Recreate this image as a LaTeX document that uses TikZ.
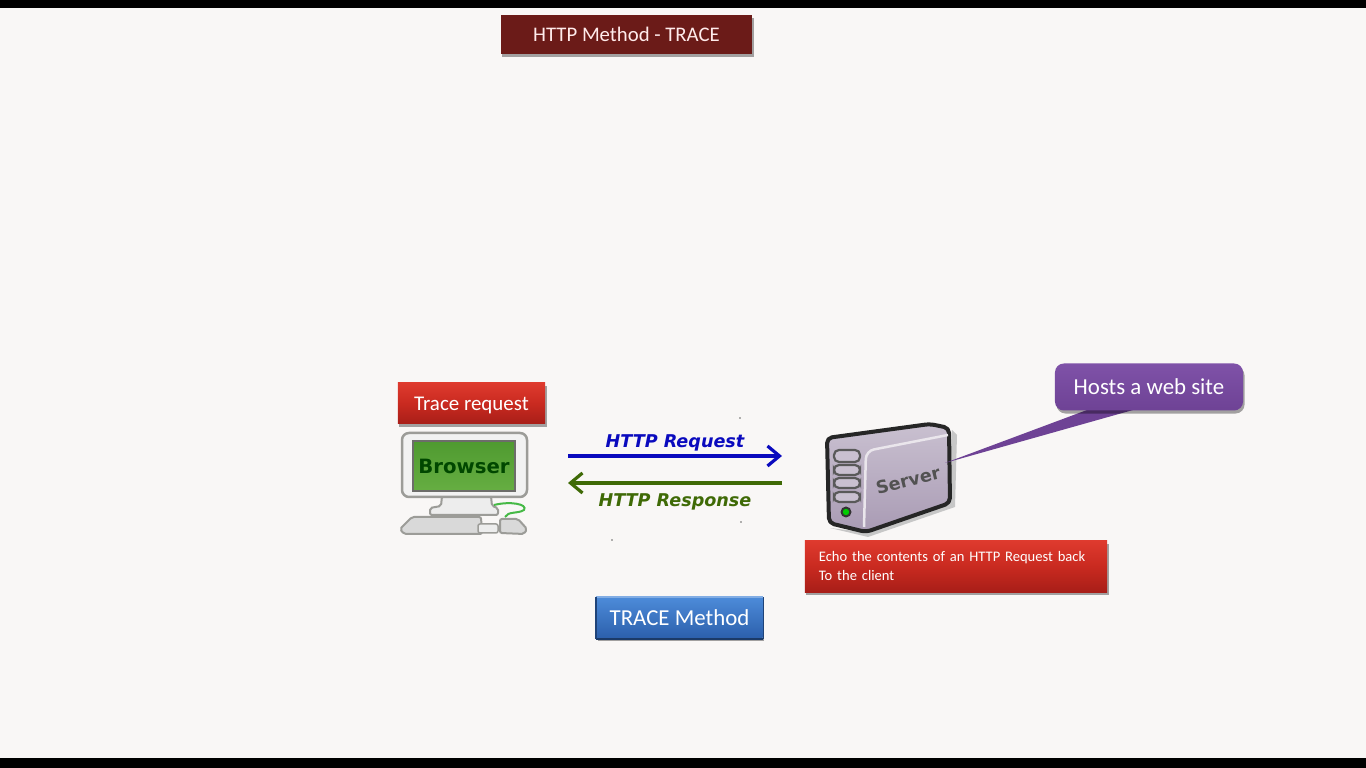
\documentclass[tikz,border=0pt]{standalone}
\usepackage{fontspec}
\setmainfont{Carlito}
\newfontfamily\labelfont{DejaVu Sans}
\usetikzlibrary{shadows,arrows.meta}
\definecolor{pagegray}{HTML}{F9F7F6}
\definecolor{titlered}{HTML}{6B1B18}
\definecolor{redtop}{HTML}{DE3A2E}
\definecolor{redmid}{HTML}{C92A20}
\definecolor{redbot}{HTML}{A81E18}
\definecolor{bluetop}{HTML}{4C8AD8}
\definecolor{bluebot}{HTML}{2C60AC}
\definecolor{purpletop}{HTML}{7F52A8}
\definecolor{purplebot}{HTML}{6E4295}
\definecolor{reqblue}{HTML}{0A0ABE}
\definecolor{resgreen}{HTML}{3F6A06}
\definecolor{screentop}{HTML}{4F9A30}
\definecolor{screenbot}{HTML}{66AE42}
\definecolor{casefill}{HTML}{A99BB4}
\definecolor{caselight}{HTML}{C9C0D0}
\definecolor{framegray}{HTML}{9C9C98}
\tikzset{
    box/.style={inner sep=0, align=center, text=white, drop shadow={shadow xshift=0.015cm, shadow yshift=-0.03cm, fill=black, opacity=0.35}},
    redbox/.style={box, top color=redtop, bottom color=redbot, middle color=redmid},
    flowlabel/.style={inner sep=0, font=\labelfont\bfseries\itshape\fontsize{5}{6}\selectfont},
    flowline/.style={line width=0.032cm, -{Straight Barb[length=0.12cm, width=0.2cm, line width=0.032cm]}},
    bay/.style={draw=black!65, line width=0.022cm, fill=caselight, rounded corners=0.05cm},
    part/.style={draw=framegray, line width=0.02cm, fill=black!7, rounded corners=0.02cm},
}
\begin{document}
\begin{tikzpicture}[x=0.01cm, y=-0.01cm]
    \useasboundingbox (0,0) rectangle (1366,768);
    \fill [pagegray] (0,0) rectangle (1366,768);
    \fill [black] (0,0) rectangle (1366,8);
    \fill [black] (0,758) rectangle (1366,768);
    \foreach \x/\y in {740/418, 612/540, 741/522}
        \fill [black!60] (\x,\y) circle [radius=0.8];

    % title and captions
    \node [box, fill=titlered, minimum width=2.51cm, minimum height=0.39cm, text=white!92!red, font=\fontsize{5.9}{7}\selectfont] (title) at (626.5,34.5) {HTTP Method - TRACE};
    \node [redbox, minimum width=1.47cm, minimum height=0.41cm, text height=0.17cm, text depth=0.02cm, font=\fontsize{5.95}{7}\selectfont] (trace) at (471.5,403.5) {Trace request};
    \node [redbox, minimum width=3.02cm, minimum height=0.51cm, text width=2.74cm, align=left, font=\fontsize{4.14}{5.4}\selectfont] (echo) at (956,566.5) {Echo the contents of an HTTP Request back\\To the client};
    \node [box, top color=bluetop, bottom color=bluebot, minimum width=1.66cm, minimum height=0.4cm, font=\fontsize{6.5}{8}\selectfont] (method) at (679.5,618) {TRACE Method};
    \draw [bluetop!70!white, line width=0.02cm] (method.north west) -- (method.north east);
    \draw [bluebot!60!black, line width=0.02cm] (method.south west) -- (method.south east);
    \draw [bluebot!70!black, line width=0.015cm] (method.north west) -- (method.south west);
    \draw [bluebot!70!black, line width=0.015cm] (method.north east) -- (method.south east);

    % browser
    \draw [part] (442,496) -- (491,496) -- (492,506) -- (498,508) -- (498,515) -- (430,515) -- (430,508) -- (441,506) -- cycle;
    \draw [green!45!gray, line width=0.02cm] (494,505) .. controls (510,501) and (528,504) .. (524,510) .. controls (518,514) and (508,511) .. (505,517);
    \draw [part, line width=0.025cm, fill=black!5, rounded corners=0.07cm] (402,433) rectangle (527,497);
    \node [draw=framegray!70!black, top color=screentop, bottom color=screenbot, minimum width=1.02cm, minimum height=0.5cm, inner sep=0, text=green!28!black, font=\labelfont\bfseries\fontsize{5.6}{7}\selectfont] (browser) at (464,466) {Browser};
    \draw [part, fill=black!15] (412,517) -- (481,517) -- (482,534) -- (404,534) -- (400,529) -- cycle;
    \draw [part, fill=black!7, line width=0.015cm] (478,524) rectangle (498,533);
    \draw [part, fill=black!15] (500,519) -- (518,519) -- (527,529) -- (524,534) -- (500,533) -- cycle;

    % flows
    \coordinate (reqA) at (568,456);
    \coordinate (reqB) at (782,456);
    \coordinate (resA) at (782,483);
    \coordinate (resB) at (568,483);
    \draw [flowline, reqblue] (reqA) -- (reqB);
    \draw [flowline, resgreen] (resA) -- (resB);
    \node [flowlabel, text=reqblue] (request) at (675,443) {HTTP Request};
    \node [flowlabel, text=resgreen] (response) at (675,502) {HTTP Response};

    % server
    \fill [black!22] (952,430) -- (957,435) -- (955,507) -- (868,537) -- (830,528) -- (863,532) -- (948,503) -- cycle;
    \filldraw [draw=black!85, line width=0.04cm, line join=round, rounded corners=0.05cm, top color=caselight, bottom color=casefill] (827,438) -- (930,424) -- (949,428) -- (950,503) -- (866,532) -- (829,523) -- cycle;
    \draw [white!75!casefill, line width=0.025cm, rounded corners=0.08cm] (864,527) -- (866,451) -- (948,435);
    \foreach \y/\h in {450/12,465/10,478/10,492/10}
        \draw [bay] (834,\y) rectangle (860,\y+\h);
    \fill [black!80] (846,512) circle [radius=5.5];
    \fill [green!80!black] (846,512) circle [radius=3.2];
    \node [rotate=14, inner sep=0, text=black!68, font=\labelfont\bfseries\fontsize{5}{7}\selectfont] (server) at (908,480) {Server};

    % callout
    \coordinate (tailA) at (1087,410);
    \coordinate (tailB) at (1133,410);
    \coordinate (tailC) at (945,463);
    \fill [purplebot] (tailA) -- (tailB) -- (tailC) -- cycle;
    \node [box, rounded corners=0.09cm, top color=purpletop, bottom color=purplebot, minimum width=1.88cm, minimum height=0.47cm, font=\fontsize{6.5}{8}\selectfont] (hosts) at (1149,387) {Hosts a web site};
\end{tikzpicture}
\end{document}
